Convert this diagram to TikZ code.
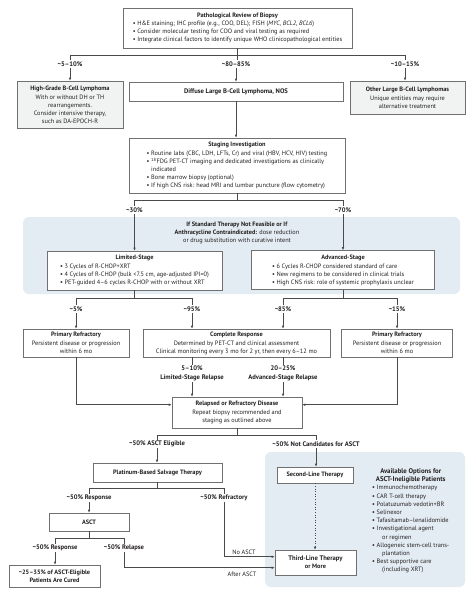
\documentclass[tikz,border=0pt]{standalone}
\usepackage{fontspec}
\setmainfont{PT Sans}
\usetikzlibrary{arrows.meta,calc}
\definecolor{linec}{HTML}{4A4A4A}
\definecolor{boxc}{HTML}{707070}
\definecolor{txtc}{HTML}{231F20}
\definecolor{grayfill}{HTML}{F1F3F3}
\definecolor{bluebg}{HTML}{E3ECF3}
\newcommand{\fs}{\fontsize{6.3}{8}\selectfont}
\newcommand{\apx}{\textasciitilde}
\newcommand{\bul}{\textbullet\ }
\tikzset{
  box/.style={draw=boxc, line width=0.6pt, fill=white, inner sep=0pt, font=\fs, align=center, text=txtc},
  gbox/.style={box, fill=grayfill},
  lab/.style={font=\fontsize{6.6}{9}\selectfont\bfseries, inner sep=1.2pt, align=center, text=txtc},
  plain/.style={font=\fs, inner sep=1pt, text=txtc},
  conn/.style={draw=linec, line width=0.6pt},
  arr/.style={conn, -{Latex[length=3pt,width=2.6pt]}},
}
\begin{document}
\begin{tikzpicture}[x=1pt,y=-1pt]
\useasboundingbox (0,0) rectangle (474,597);
% backgrounds
\fill[bluebg, rounded corners=6pt] (23,217) rectangle (460,294);
\fill[bluebg, rounded corners=6pt] (265,452) rectangle (465,587);

% top box
\node[box, minimum width=229, minimum height=40] (path) at (237.5,28)
 {\begin{tabular}{@{}l@{}}\multicolumn{1}{@{}c@{}}{\textbf{Pathological Review of Biopsy}}\\
 \bul H\&E staining; IHC profile (e.g., COO, DEL); FISH (\textit{MYC}, \textit{BCL2}, \textit{BCL6})\\
 \bul Consider molecular testing for COO and viral testing as required\\
 \bul Integrate clinical factors to identify unique WHO clinicopathological entities\end{tabular}};

% row 1
\node[lab] (l510) at (70,64) {\apx5--10\%};
\node[lab] (l8085) at (236,64) {\apx80--85\%};
\node[lab] (l1015) at (405,64) {\apx10--15\%};
\coordinate (b1L) at (70,55);
\coordinate (b1R) at (405,55);
\draw[conn] (l510.north) -- (b1L) -- (b1R) -- (l1015.north);
\draw[conn] (path.south) -- (path.south |- l8085.north);

\node[gbox, minimum width=106, minimum height=47] (hg) at (70,104.5)
 {\textbf{High-Grade B-Cell Lymphoma}\\[1pt]With or without DH or TH\\rearrangements.\\Consider intensive therapy,\\such as DA-EPOCH-R};
\node[box, minimum width=214, minimum height=19] (dlbcl) at (236,91.5)
 {\fontsize{6.6}{8}\selectfont\textbf{Diffuse Large B-Cell Lymphoma, NOS}};
\node[gbox, minimum width=115, minimum height=33] (other) at (407.5,97.5)
 {\textbf{Other Large B-Cell Lymphomas}\\[1pt]Unique entities may require\\alternative treatment};
\draw[arr] (l510.south) -- (l510.south |- hg.north);
\draw[arr] (l8085.south) -- (l8085.south |- dlbcl.north);
\draw[arr] (l1015.south) -- (l1015.south |- other.north);

% staging
\node[box, minimum width=216, minimum height=55] (staging) at (237,165.5)
 {\begin{tabular}{@{}l@{}}\multicolumn{1}{@{}c@{}}{\textbf{Staging Investigation}}\\[1pt]
 \bul Routine labs (CBC, LDH, LFTs, Cr) and viral (HBV, HCV, HIV) testing\\
 \bul \textsuperscript{18}FDG PET-CT imaging and dedicated investigations as clinically\\
 \hphantom{\bul}indicated\\
 \bul Bone marrow biopsy (optional)\\
 \bul If high CNS risk: head MRI and lumbar puncture (flow cytometry)\end{tabular}};
\draw[arr] (dlbcl.south) -- (dlbcl.south |- staging.north);

% row 2
\node[lab] (l30) at (134.5,210) {\apx30\%};
\node[lab] (l70) at (343,210) {\apx70\%};
\coordinate (b2L) at (134.5,200);
\coordinate (b2R) at (343,200);
\draw[conn] (l30.north) -- (b2L) -- (b2R) -- (l70.north);
\draw[conn] (staging.south) -- (staging.south |- b2L);

\node[plain, align=center] (nf) at (237,233)
 {\textbf{If Standard Therapy Not Feasible or If}\\\textbf{Anthracycline Contraindicated:} dose reduction\\or drug substitution with curative intent};

\node[box, minimum width=175, minimum height=39] (limited) at (134.5,270.5)
 {\begin{tabular}{@{}l@{}}\multicolumn{1}{@{}c@{}}{\textbf{Limited-Stage}}\\[1pt]
 \bul 3 Cycles of R-CHOP+XRT\\
 \bul 4 Cycles of R-CHOP (bulk <7.5 cm, age-adjusted IPI=0)\\
 \bul PET-guided 4--6 cycles R-CHOP with or without XRT\end{tabular}};
\node[box, minimum width=183, minimum height=39] (advanced) at (343,270)
 {\begin{tabular}{@{}l@{}}\multicolumn{1}{@{}c@{}}{\textbf{Advanced-Stage}}\\[1pt]
 \bul 6 Cycles R-CHOP considered standard of care\\
 \bul New regimens to be considered in clinical trials\\
 \bul High CNS risk: role of systemic prophylaxis unclear\end{tabular}};
\draw[arr] (l30.south) -- (l30.south |- limited.north);
\draw[arr] (l70.south) -- (l70.south |- advanced.north);

% row 3
\node[lab] (l5) at (76,309) {\apx5\%};
\node[lab] (l95) at (192,309) {\apx95\%};
\node[lab] (l85) at (283,309) {\apx85\%};
\node[lab] (l15) at (397,309) {\apx15\%};
\coordinate (b3a) at (76,298);
\coordinate (b3b) at (192,298);
\coordinate (b3c) at (283,298);
\coordinate (b3d) at (397,298);
\draw[conn] (l5.north) -- (b3a) -- (b3b) -- (l95.north);
\draw[conn] (l85.north) -- (b3c) -- (b3d) -- (l15.north);
\draw[conn] (limited.south) -- (limited.south |- b3a);
\draw[conn] (advanced.south) -- (advanced.south |- b3c);

\node[box, minimum width=106, minimum height=28] (pr1) at (76,343)
 {\textbf{Primary Refractory}\\[1pt]Persistent disease or progression\\within 6 mo};
\node[box, minimum width=187, minimum height=28] (cr) at (236.5,343)
 {\textbf{Complete Response}\\[1pt]Determined by PET-CT and clinical assessment\\Clinical monitoring every 3 mo for 2 yr, then every 6--12 mo};
\node[box, minimum width=111, minimum height=28] (pr2) at (397,343)
 {\textbf{Primary Refractory}\\[1pt]Persistent disease or progression\\within 6 mo};
\draw[arr] (l5.south) -- (l5.south |- pr1.north);
\draw[arr] (l95.south) -- (l95.south |- cr.north);
\draw[arr] (l85.south) -- (l85.south |- cr.north);
\draw[arr] (l15.south) -- (l15.south |- pr2.north);

% relapse labels
\node[lab] (rl1) at (192,373.5) {5--10\%\\Limited-Stage Relapse};
\node[lab] (rl2) at (283,373.5) {20--25\%\\Advanced-Stage Relapse};
\draw[conn] (rl1.north |- cr.south) -- (rl1.north);
\draw[conn] (rl2.north |- cr.south) -- (rl2.north);

\node[box, minimum width=130, minimum height=31] (relapse) at (237,412.5)
 {\textbf{Relapsed or Refractory Disease}\\[1pt]Repeat biopsy recommended and\\staging as outlined above};
\draw[arr] (rl1.south) -- (rl1.south |- relapse.north);
\draw[arr] (rl2.south) -- (rl2.south |- relapse.north);
\coordinate (rinL) at ($(relapse.north west)+(0,8)$);
\coordinate (rinR) at ($(relapse.north east)+(0,8)$);
\draw[arr] (pr1.south) |- (rinL);
\draw[arr] (pr2.south) |- (rinR);

% row 4
\node[lab] (lae) at (157,444) {\apx50\% ASCT Eligible};
\node[lab] (lnc) at (316,444) {\apx50\% Not Candidates for ASCT};
\coordinate (b4L) at (157,435);
\coordinate (b4R) at (316,435);
\draw[conn] (lae.north) -- (b4L) -- (b4R) -- (lnc.north);
\draw[conn] (relapse.south) -- (relapse.south |- b4L);

\node[box, minimum width=129, minimum height=19] (plat) at (157.5,472.5)
 {\textbf{Platinum-Based Salvage Therapy}};
\node[box, minimum width=76, minimum height=16] (second) at (315,475)
 {\textbf{Second-Line Therapy}};
\draw[arr] (lae.south) -- (lae.south |- plat.north);
\draw[arr] (lnc.south) -- (lnc.south |- second.north);

% row 5
\node[lab] (lres) at (89,498) {\apx50\% Response};
\node[lab] (lref) at (224,498) {\apx50\% Refractory};
\coordinate (b5L) at (89,488);
\coordinate (b5R) at (224,488);
\draw[conn] (lres.north) -- (b5L) -- (b5R) -- (lref.north);
\draw[conn] (plat.south) -- (plat.south |- b5L);

\node[box, minimum width=80, minimum height=18] (asct) at (89,522)
 {\textbf{ASCT}};
\draw[arr] (lres.south) -- (lres.south |- asct.north);

% row 6
\node[lab] (lres2) at (55,548) {\apx50\% Response};
\node[lab] (lrel) at (124,548) {\apx50\% Relapse};
\coordinate (b6L) at (55,538);
\coordinate (b6R) at (124,538);
\draw[conn] (lres2.north) -- (b6L) -- (b6R) -- (lrel.north);
\draw[conn] (asct.south) -- (asct.south |- b6L);

\node[box, minimum width=91, minimum height=22] (cured) at (54.5,576)
 {\textbf{\apx25--35\% of ASCT-Eligible}\\\textbf{Patients Are Cured}};
\draw[arr] (lres2.south) -- (lres2.south |- cured.north);

\node[box, minimum width=81, minimum height=25] (third) at (315.5,562.5)
 {\fontsize{6.6}{8.5}\selectfont\textbf{Third-Line Therapy}\\\textbf{or More}};
\coordinate (tinA) at ($(third.north west)+(0,7)$);
\coordinate (tinB) at ($(third.north west)+(0,18)$);
\draw[arr] (lref.south) |- (tinA);
\draw[arr] (lrel.south) |- (tinB);
\node[plain] (noasct) at (244,552) {No ASCT};
\node[plain] (afasct) at (242,574) {After ASCT};
\draw[conn, dotted, -{Latex[length=3pt,width=2.6pt]}] (second.south) -- (second.south |- third.north);

\node[plain, anchor=north west, font=\fontsize{6.3}{8.2}\selectfont] (opts) at (371,466.5)
 {\begin{tabular}{@{}l@{}}\multicolumn{1}{@{}c@{}}{\fontsize{6.8}{8.2}\selectfont\textbf{Available Options for}}\\
 \multicolumn{1}{@{}c@{}}{\fontsize{6.8}{8.2}\selectfont\textbf{ASCT-Ineligible Patients}}\\
 \bul Immunochemotherapy\\
 \bul CAR T-cell therapy\\
 \bul Polatuzumab vedotin+BR\\
 \bul Selinexor\\
 \bul Tafasitamab--lenalidomide\\
 \bul Investigational agent\\
 \hspace*{10pt}or regimen\\
 \bul Allogeneic stem-cell trans-\\
 \hspace*{10pt}plantation\\
 \bul Best supportive care\\
 \hspace*{10pt}(including XRT)\end{tabular}};
\end{tikzpicture}
\end{document}
